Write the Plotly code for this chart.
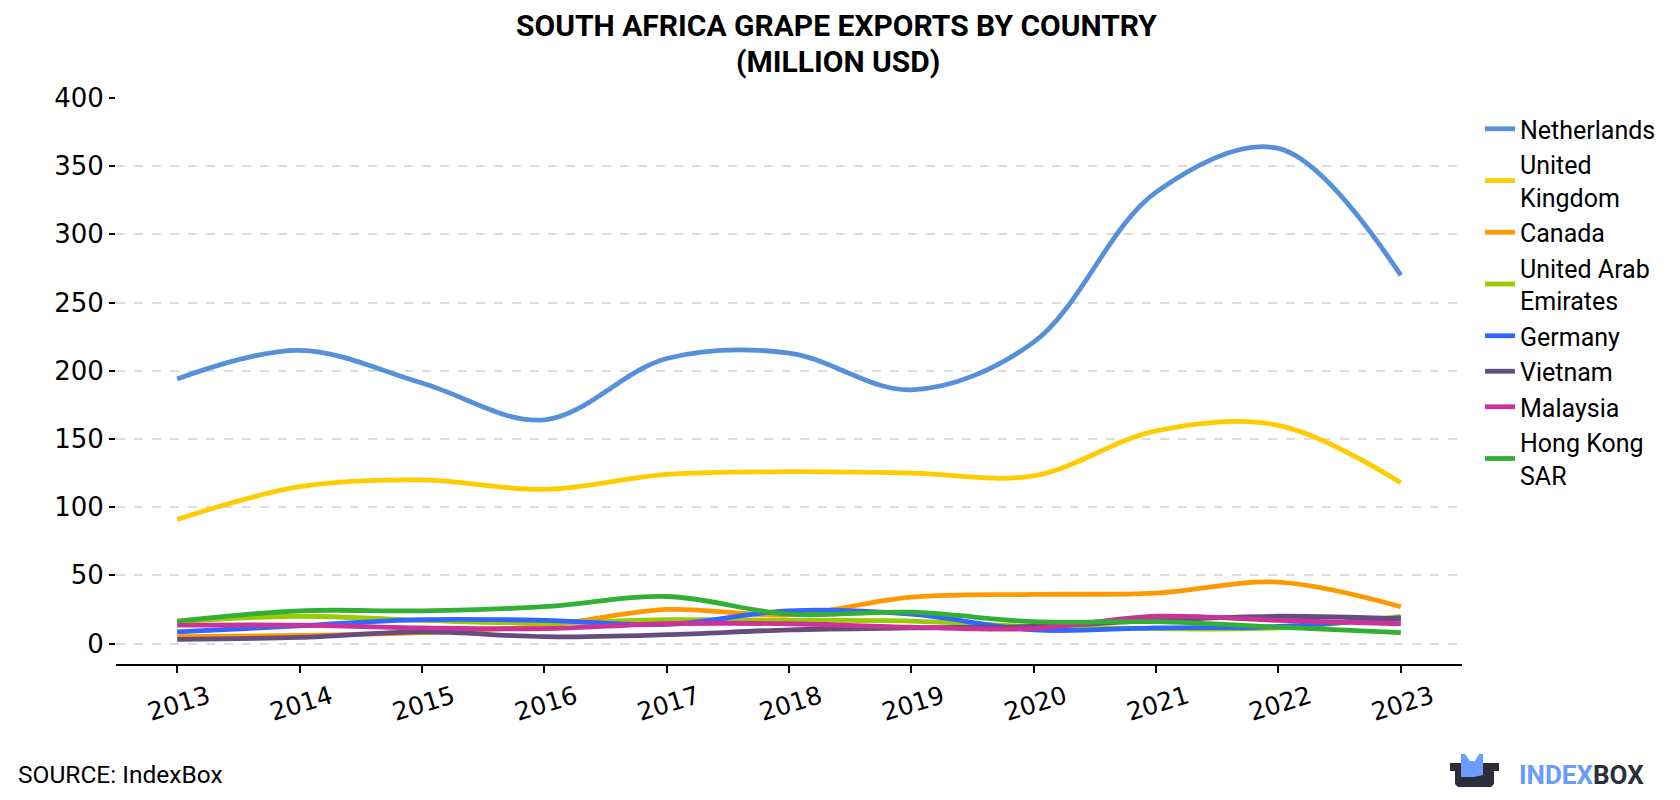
import plotly.graph_objects as go

years = [2013, 2014, 2015, 2016, 2017, 2018, 2019, 2020, 2021, 2022, 2023]

netherlands = [194, 215, 191, 164, 209, 213, 186, 221, 331, 363, 270]
united_kingdom = [91, 115, 120, 113, 124, 126, 125, 123, 156, 160, 118]
canada = [5, 6, 8, 13, 25, 21, 34, 36, 37, 45, 27]
uae = [16, 20, 17, 15, 17.5, 17, 16.5, 12.5, 11, 11.5, 20]
germany = [8.5, 13, 17.5, 17, 14, 24, 21.5, 10, 11.5, 12.5, 19]
vietnam = [3, 4.5, 8.5, 5, 6.5, 10, 11.5, 12.5, 17, 20, 18]
malaysia = [13.5, 13.5, 11.5, 11, 14.5, 14.5, 12, 11, 20, 17, 14.5]
hong_kong = [16.5, 24, 24, 27, 34.5, 21.5, 23, 16, 16, 12, 8]

series = [
    ("Netherlands", netherlands, "#5590d9"),
    ("United<br>Kingdom", united_kingdom, "#ffcc00"),
    ("Canada", canada, "#ff9900"),
    ("United Arab<br>Emirates", uae, "#99cc00"),
    ("Germany", germany, "#3366ff"),
    ("Vietnam", vietnam, "#664d80"),
    ("Malaysia", malaysia, "#cc3399"),
    ("Hong Kong<br>SAR", hong_kong, "#33b033"),
]

fig = go.Figure()
for name, vals, col in series:
    fig.add_trace(go.Scatter(
        x=years, y=vals, name=name, mode="lines",
        line=dict(color=col, width=4.8, shape="spline", smoothing=1.0),
    ))

L, R, T, B = 116, 218, 98, 136
W, H = 1680, 800
pw, ph = W - L - R, H - T - B

def px(x):
    return (x - L) / pw

def py(y):
    return (H - B - y) / ph

fig.update_layout(
    width=W, height=H,
    margin=dict(l=L, r=R, t=T, b=B, pad=0),
    paper_bgcolor="white", plot_bgcolor="white",
    font=dict(family="Roboto", color="#000000"),
    showlegend=True,
    legend=dict(
        x=px(1480), xanchor="left", y=py(106), yanchor="top",
        font=dict(family="Roboto", size=25, color="#000000"),
        bgcolor="rgba(0,0,0,0)", tracegroupgap=0,
    ),
    xaxis=dict(
        range=[2012.5, 2023.5],
        tickvals=years, ticktext=[str(y) for y in years],
        tickangle=-17,
        ticklabelshift=31, ticklabelstandoff=0,
        tickfont=dict(family="DejaVu Sans", size=25, color="#000000"),
        showline=True, linecolor="#000000", linewidth=2,
        ticks="outside", ticklen=7, tickwidth=2, tickcolor="#000000",
        showgrid=False, zeroline=False,
    ),
    yaxis=dict(
        range=[-15, 400],
        tickvals=[0, 50, 100, 150, 200, 250, 300, 350, 400],
        tickfont=dict(family="DejaVu Sans", size=26, color="#000000"),
        ticks="outside", ticklen=6, tickwidth=2, tickcolor="#000000",
        showline=False, zeroline=False,
        showgrid=True, gridcolor="#dddddd", gridwidth=2, griddash="dash",
    ),
)

fig.add_annotation(
    text="<b>SOUTH AFRICA GRAPE EXPORTS BY COUNTRY</b>", xref="paper", yref="paper",
    x=px(836), y=py(26), xanchor="center", yanchor="middle", showarrow=False,
    font=dict(family="Roboto", size=30, color="#000000"),
)
fig.add_annotation(
    text="<b>(MILLION USD)</b>", xref="paper", yref="paper",
    x=px(838), y=py(62), xanchor="center", yanchor="middle", showarrow=False,
    font=dict(family="Roboto", size=30, color="#000000"),
)
fig.add_annotation(
    text="SOURCE: IndexBox", xref="paper", yref="paper",
    x=px(16), y=py(774), xanchor="left", yanchor="middle", showarrow=False,
    font=dict(family="Roboto", size=24.5, color="#000000"),
)
fig.add_annotation(
    text="<b><span style='color:#6b9bff'>INDEX</span><span style='color:#2b2d3a'>BOX</span></b>",
    xref="paper", yref="paper",
    x=px(1517), y=py(775), xanchor="left", yanchor="middle", showarrow=False,
    font=dict(family="Roboto", size=26),
)

def path(points):
    s = ""
    for i, (x, y) in enumerate(points):
        s += ("M" if i == 0 else "L") + f"{px(x):.5f},{py(y):.5f} "
    return s + "Z"

fig.add_shape(type="path", xref="paper", yref="paper",
              path=path([(1450, 763), (1499, 763), (1499, 771), (1494, 771), (1494, 784), (1491, 787), (1458, 787), (1455, 784), (1455, 771), (1450, 771)]),
              fillcolor="#2b2d3a", line=dict(width=0))
fig.add_shape(type="path", xref="paper", yref="paper",
              path=path([(1461, 754), (1465, 754), (1470, 761), (1475, 761), (1479, 754), (1483, 754), (1483, 775), (1474, 777), (1461, 777)]),
              fillcolor="#6b9bff", line=dict(width=0))

fig.write_html("out.html")
